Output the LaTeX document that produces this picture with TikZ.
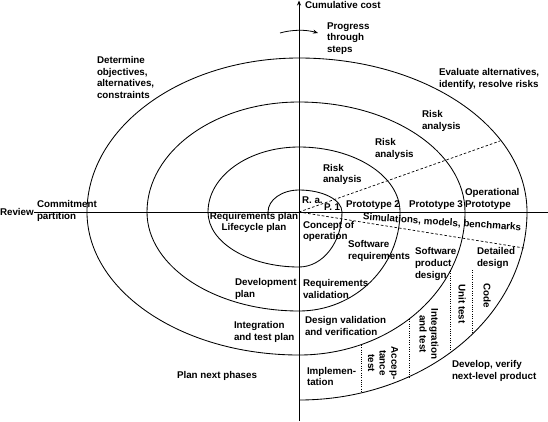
\documentclass[tikz,border=0pt]{standalone}
\usepackage{fontspec}
\setmainfont{Liberation Sans}
\usetikzlibrary{arrows.meta}
\begin{document}
\begin{tikzpicture}[x=1pt,y=-1pt,
  lbl/.style={inner sep=0pt,outer sep=0pt,align=left,font=\fontsize{9.8}{11.6}\selectfont\bfseries},
  spiral/.style={line width=0.85pt},
  axis/.style={line width=1pt},
  dashedline/.style={line width=0.7pt,dash pattern=on 2.6pt off 2pt},
  dotline/.style={line width=0.7pt,dash pattern=on 1pt off 1.3pt}]
\useasboundingbox (0,0) rectangle (548,421);
\fill[white] (0,0) rectangle (548,421);
% centre
\coordinate (O) at (299,212);
% axes
\node[lbl,anchor=west] (review) at (0,212) {Review};
\coordinate (hr) at (548,212);
\draw[axis] (review.east) -- (hr);
\coordinate (vb) at (299,421);
\coordinate (vt) at (299,0.5);
\draw[axis,-{Stealth[length=5pt,width=4pt]}] (vb) -- (vt);
% spiral
\draw[spiral] (268,212)
 arc[start angle=180,end angle=270,x radius=31,y radius=22]
 arc[start angle=270,end angle=360,x radius=43,y radius=22]
 arc[start angle=0,end angle=90,x radius=43,y radius=55]
 arc[start angle=90,end angle=180,x radius=91,y radius=55]
 arc[start angle=180,end angle=270,x radius=91,y radius=65]
 arc[start angle=270,end angle=360,x radius=101,y radius=65]
 arc[start angle=0,end angle=90,x radius=101,y radius=99]
 arc[start angle=90,end angle=180,x radius=152,y radius=99]
 arc[start angle=180,end angle=270,x radius=152,y radius=110]
 arc[start angle=270,end angle=360,x radius=166,y radius=110]
 arc[start angle=0,end angle=90,x radius=166,y radius=143]
 arc[start angle=90,end angle=180,x radius=212,y radius=143]
 arc[start angle=180,end angle=270,x radius=212,y radius=154]
 arc[start angle=270,end angle=360,x radius=228,y radius=154]
 arc[start angle=0,end angle=90,x radius=228,y radius=188];
% dashed rays
\coordinate (d1) at (500,141);
\coordinate (d2) at (524,248);
\draw[dashedline] (O) -- (d1);
\draw[dashedline] (O) -- (d2);
% dotted separators
\coordinate (a1) at (472,270); \coordinate (a2) at (472,334);
\draw[dotline] (a1) -- (a2);
\coordinate (b1) at (450,271); \coordinate (b2) at (450,353);
\draw[dotline] (b1) -- (b2);
\coordinate (c1) at (409,319); \coordinate (c2) at (409,377);
\draw[dotline] (c1) -- (c2);
\coordinate (e1) at (361,345); \coordinate (e2) at (361,393);
\draw[dotline] (e1) -- (e2);
% progress arrow
\coordinate (p1) at (280,33);
\coordinate (p2) at (318,33);
\draw[line width=0.8pt,-{Stealth[length=5pt,width=4pt]}] (p1) .. controls (292,29.5) and (306,29.5) .. (p2);
% labels
\node[lbl,anchor=west] (cum) at (305,5) {Cumulative cost};
\node[lbl,anchor=west] (prog) at (327,38.5) {Progress\\through\\steps};
\node[lbl,anchor=west] (det) at (97,77.5) {Determine\\objectives,\\alternatives,\\constraints};
\node[lbl,anchor=west] (eval) at (439,79) {Evaluate alternatives,\\identify, resolve risks};
\node[lbl,anchor=west] (ra3) at (422,121) {Risk\\analysis};
\node[lbl,anchor=west] (ra2) at (375,149) {Risk\\analysis};
\node[lbl,anchor=west] (ra1) at (323,174.5) {Risk\\analysis};
\node[lbl,anchor=west] (ra0) at (302,200) {R. a.};
\node[lbl,anchor=west] (p1l) at (324,207) {P. 1};
\node[lbl,anchor=west] (pt2) at (346,205) {Prototype 2};
\node[lbl,anchor=west] (pt3) at (409,205) {Prototype 3};
\node[lbl,anchor=west] (op) at (465,199) {Operational\\Prototype};
\node[lbl,anchor=west] (comm) at (37,211) {Commitment\\partition};
\node[lbl,align=center] (rp) at (254,222.5) {Requirements plan\\Lifecycle plan};
\node[lbl,anchor=west] (cop) at (303,231.5) {Concept of\\operation};
\node[lbl,rotate=-3.9] (sim) at (442,222.5) {Simulations, models, benchmarks};
\node[lbl,anchor=west] (sr) at (348,251) {Software\\requirements};
\node[lbl,anchor=west] (spd) at (415,264) {Software\\product\\design};
\node[lbl,anchor=west] (dd) at (477,258) {Detailed\\design};
\node[lbl,rotate=-90] (code) at (487,296) {Code};
\node[lbl,rotate=-90] (ut) at (462,304) {Unit test};
\node[lbl,rotate=-90,align=center] (it) at (429,334) {Integration\\and test};
\node[lbl,rotate=-90,align=center] (at) at (383,363) {Accep-\\tance\\test};
\node[lbl,anchor=west] (impl) at (307,376.5) {Implemen-\\tation};
\node[lbl,anchor=west] (dev) at (452,371) {Develop, verify\\next-level product};
\node[lbl,anchor=west] (dvv) at (305,326) {Design validation\\and verification};
\node[lbl,anchor=west] (rv) at (303,289) {Requirements\\validation};
\node[lbl,anchor=west] (dp) at (235,289) {Development\\plan};
\node[lbl,anchor=west] (itp) at (234,332) {Integration\\and test plan};
\node[lbl,anchor=west] (pnp) at (177,376) {Plan next phases};
\end{tikzpicture}
\end{document}
